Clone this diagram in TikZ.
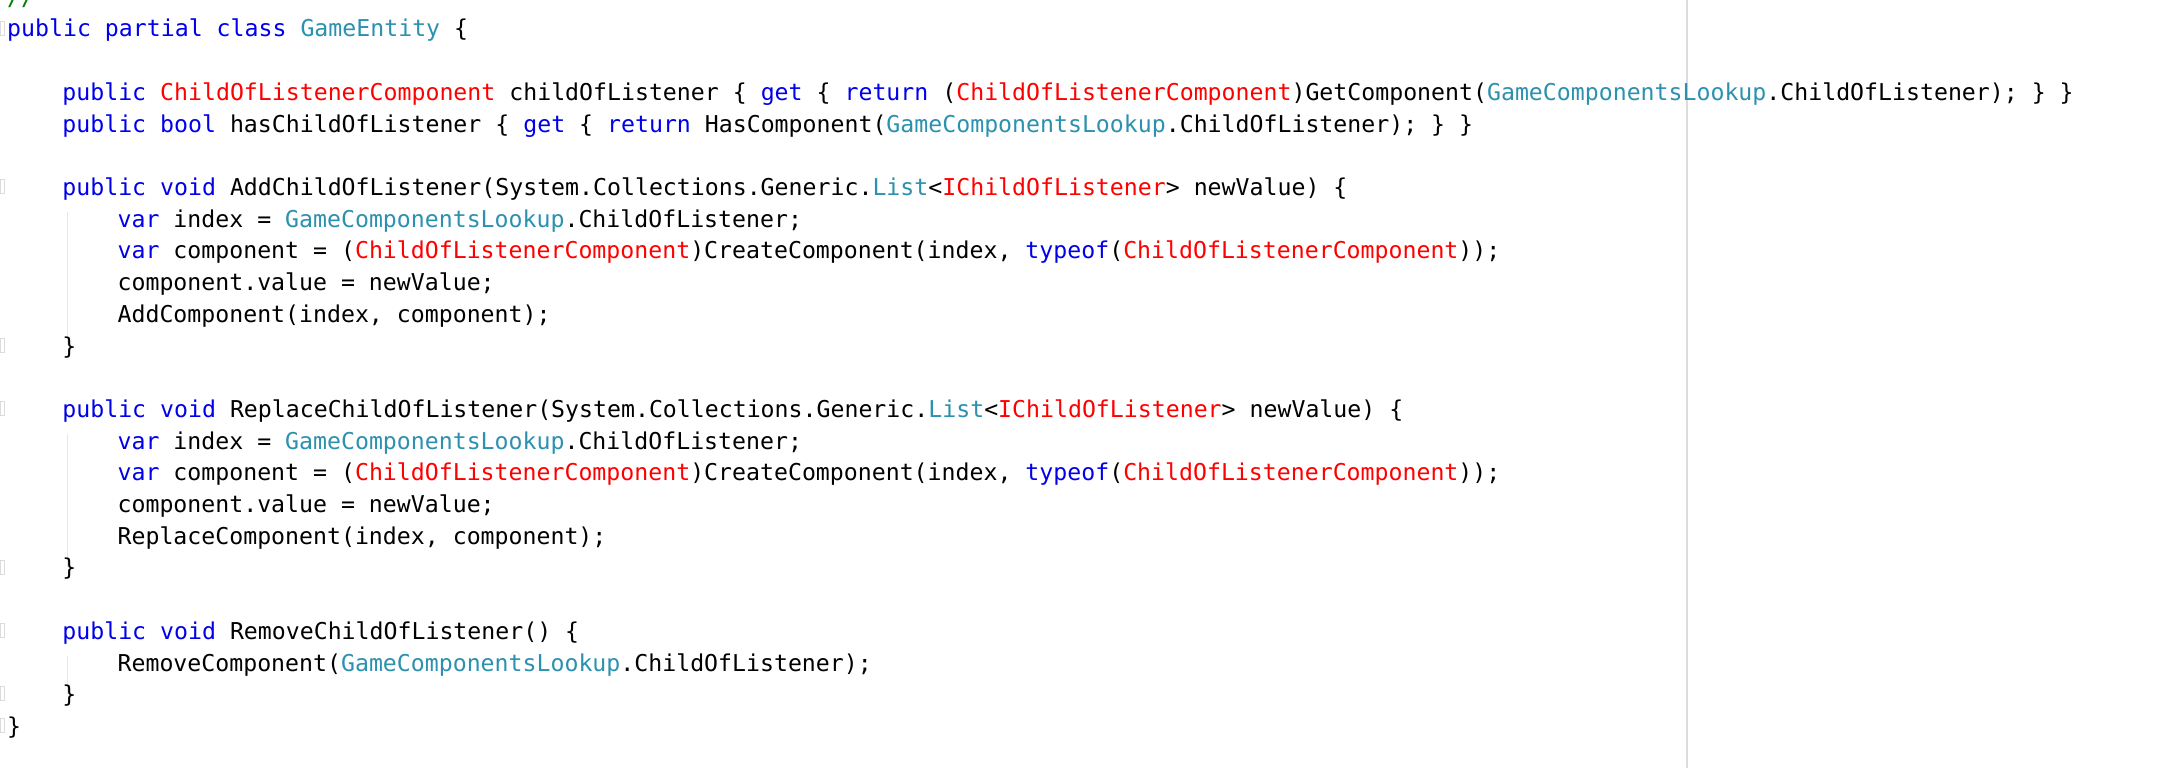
\documentclass[tikz,border=0pt]{standalone}
\usepackage{fontspec}
\setmonofont{DejaVu Sans Mono}
\definecolor{kwc}{RGB}{0,0,235}
\definecolor{tyc}{RGB}{43,145,175}
\definecolor{rdc}{RGB}{255,0,0}
\definecolor{cmc}{RGB}{0,128,0}
\definecolor{guide}{RGB}{220,220,220}
\newcommand{\kw}[1]{\textcolor{kwc}{#1}}
\newcommand{\ty}[1]{\textcolor{tyc}{#1}}
\newcommand{\rd}[1]{\textcolor{rdc}{#1}}
\begin{document}
\begin{tikzpicture}[x=1pt,y=-1pt,
  code/.style={anchor=base west,inner sep=0pt,font=\ttfamily\fontsize{23.2}{28}\selectfont},
  fold/.style={draw=guide,fill=white,line width=0.8pt}]
\useasboundingbox (0,0) rectangle (2170,768);
\fill[white] (0,0) rectangle (2170,768);
\draw[guide,line width=1.5pt] (1687,0) -- (1687,768);
% indent guides
\draw[guide!70,line width=1pt] (67,212) -- (67,345);
\draw[guide!70,line width=1pt] (67,434) -- (67,567);
\draw[guide!70,line width=1pt] (67,656) -- (67,694);
% fold markers
\foreach \r in {0,5,10,12,17,19,21,22}{
  \draw[fold] (0,{37+31.7*\r-16}) rectangle (4,{37+31.7*\r-2});
}
\node[code] (lc) at (7,5.3) {\textcolor{cmc}{//}};
\node[code] (l0) at (7,37) {\kw{public partial class} \ty{GameEntity} \{};
\node[code] (l2) at (62.2,100.4) {\kw{public} \rd{ChildOfListenerComponent} childOfListener \{ \kw{get} \{ \kw{return} (\rd{ChildOfListenerComponent})GetComponent(\ty{GameComponentsLookup}.ChildOfListener); \} \}};
\node[code] (l3) at (62.2,132.1) {\kw{public bool} hasChildOfListener \{ \kw{get} \{ \kw{return} HasComponent(\ty{GameComponentsLookup}.ChildOfListener); \} \}};
\node[code] (l5) at (62.2,195.5) {\kw{public void} AddChildOfListener(System.Collections.Generic.\ty{List}<\rd{IChildOfListener}> newValue) \{};
\node[code] (l6) at (117.4,227.2) {\kw{var} index = \ty{GameComponentsLookup}.ChildOfListener;};
\node[code] (l7) at (117.4,258.9) {\kw{var} component = (\rd{ChildOfListenerComponent})CreateComponent(index, \kw{typeof}(\rd{ChildOfListenerComponent}));};
\node[code] (l8) at (117.4,290.6) {component.value = newValue;};
\node[code] (l9) at (117.4,322.3) {AddComponent(index, component);};
\node[code] (l10) at (62.2,354) {\}};
\node[code] (l12) at (62.2,417.4) {\kw{public void} ReplaceChildOfListener(System.Collections.Generic.\ty{List}<\rd{IChildOfListener}> newValue) \{};
\node[code] (l13) at (117.4,449.1) {\kw{var} index = \ty{GameComponentsLookup}.ChildOfListener;};
\node[code] (l14) at (117.4,480.8) {\kw{var} component = (\rd{ChildOfListenerComponent})CreateComponent(index, \kw{typeof}(\rd{ChildOfListenerComponent}));};
\node[code] (l15) at (117.4,512.5) {component.value = newValue;};
\node[code] (l16) at (117.4,544.2) {ReplaceComponent(index, component);};
\node[code] (l17) at (62.2,575.9) {\}};
\node[code] (l19) at (62.2,639.3) {\kw{public void} RemoveChildOfListener() \{};
\node[code] (l20) at (117.4,671) {RemoveComponent(\ty{GameComponentsLookup}.ChildOfListener);};
\node[code] (l21) at (62.2,702.7) {\}};
\node[code] (l22) at (7,734.4) {\}};
\end{tikzpicture}
\end{document}
